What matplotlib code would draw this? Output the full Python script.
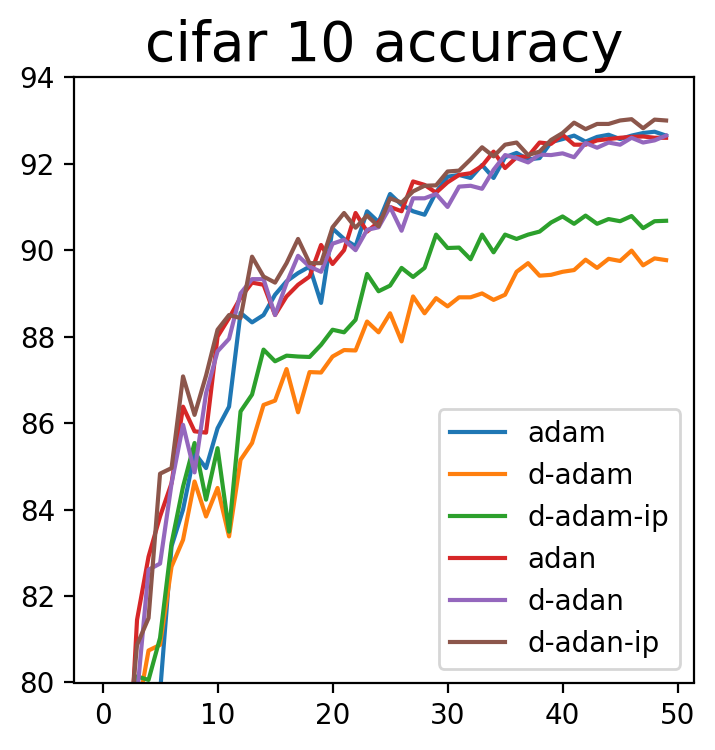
import matplotlib
matplotlib.use("Agg")
import matplotlib.pyplot as plt
import numpy as np

# test accuracy per epoch (first epochs lie below the visible range)
adam = [55, 66, 71, 74.5, 77.5, 79.76, 83.15, 84.0, 85.31, 84.96,
        85.88, 86.38, 88.55, 88.33, 88.5, 88.97, 89.28, 89.47, 89.62, 88.78,
        90.5, 90.26, 90.09, 90.9, 90.65, 91.3, 91.05, 90.9, 90.82, 91.34,
        91.7, 91.74, 91.67, 91.97, 91.67, 92.15, 92.25, 92.1, 92.13, 92.5,
        92.57, 92.65, 92.51, 92.62, 92.67, 92.57, 92.65, 92.71, 92.74, 92.65]
d_adam = [45, 62, 74, 79.26, 80.74, 80.87, 82.68, 83.3, 84.65, 83.84,
          84.5, 83.38, 85.15, 85.54, 86.42, 86.52, 87.25, 86.25, 87.18, 87.17,
          87.54, 87.69, 87.68, 88.35, 88.1, 88.54, 87.89, 88.93, 88.54, 88.89,
          88.7, 88.91, 88.91, 89.0, 88.85, 88.97, 89.5, 89.7, 89.41, 89.43,
          89.5, 89.54, 89.78, 89.59, 89.8, 89.75, 89.99, 89.65, 89.81, 89.77]
d_adam_ip = [48, 65, 76, 80.14, 80.06, 81.03, 83.22, 84.53, 85.54, 84.23,
             85.42, 83.49, 86.27, 86.66, 87.7, 87.43, 87.56, 87.54, 87.53, 87.81,
             88.16, 88.1, 88.39, 89.45, 89.05, 89.18, 89.59, 89.38, 89.59, 90.36,
             90.05, 90.06, 89.79, 90.36, 89.95, 90.36, 90.26, 90.36, 90.43, 90.64,
             90.78, 90.61, 90.8, 90.61, 90.72, 90.67, 90.79, 90.51, 90.67, 90.68]
adan = [50, 68, 76.6, 81.45, 82.91, 83.84, 84.61, 86.38, 85.81, 85.78,
        88.0, 88.43, 88.9, 89.25, 89.2, 88.5, 88.93, 89.2, 89.39, 90.12,
        89.68, 90.0, 90.86, 90.43, 90.65, 91.0, 90.9, 91.59, 91.51, 91.33,
        91.57, 91.74, 91.78, 91.95, 92.28, 91.9, 92.15, 92.17, 92.49, 92.46,
        92.67, 92.44, 92.44, 92.54, 92.57, 92.6, 92.62, 92.63, 92.6, 92.6]
d_adan = [47, 64, 73, 79.71, 82.61, 82.75, 84.6, 85.96, 84.86, 86.69,
          87.66, 87.95, 89.0, 89.33, 89.33, 88.5, 89.24, 89.87, 89.62, 89.5,
          90.15, 90.24, 90.0, 90.47, 90.53, 91.0, 90.45, 91.2, 91.2, 91.3,
          91.0, 91.47, 91.49, 91.42, 91.86, 92.2, 92.13, 92.03, 92.21, 92.2,
          92.24, 92.15, 92.48, 92.37, 92.49, 92.44, 92.6, 92.49, 92.54, 92.65]
d_adan_ip = [50, 68, 77.97, 80.87, 81.49, 84.83, 84.96, 87.08, 86.19, 87.1,
             88.16, 88.5, 88.43, 89.85, 89.39, 89.25, 89.7, 90.26, 89.7, 89.7,
             90.53, 90.86, 90.52, 90.8, 90.55, 91.2, 91.1, 91.36, 91.49, 91.5,
             91.82, 91.84, 92.1, 92.38, 92.17, 92.44, 92.49, 92.2, 92.28, 92.55,
             92.71, 92.95, 92.8, 92.92, 92.92, 93.0, 93.03, 92.82, 93.02, 93.0]
labels = ["adam", "d-adam", "d-adam-ip", "adan", "d-adan", "d-adan-ip"]

fig, ax = plt.subplots(figsize=(3.575, 3.75), dpi=200)
fig.subplots_adjust(left=0.104, right=0.971, bottom=0.09, top=0.897)
for series, name in zip([adam, d_adam, d_adam_ip, adan, d_adan, d_adan_ip], labels):
    ax.plot(np.arange(len(series)), series, label=name)
ax.set_ylim(80, 94)
ax.set_title("cifar 10 accuracy", fontsize=20)
ax.legend(loc="lower right")
fig.savefig("out.png", dpi=200)
